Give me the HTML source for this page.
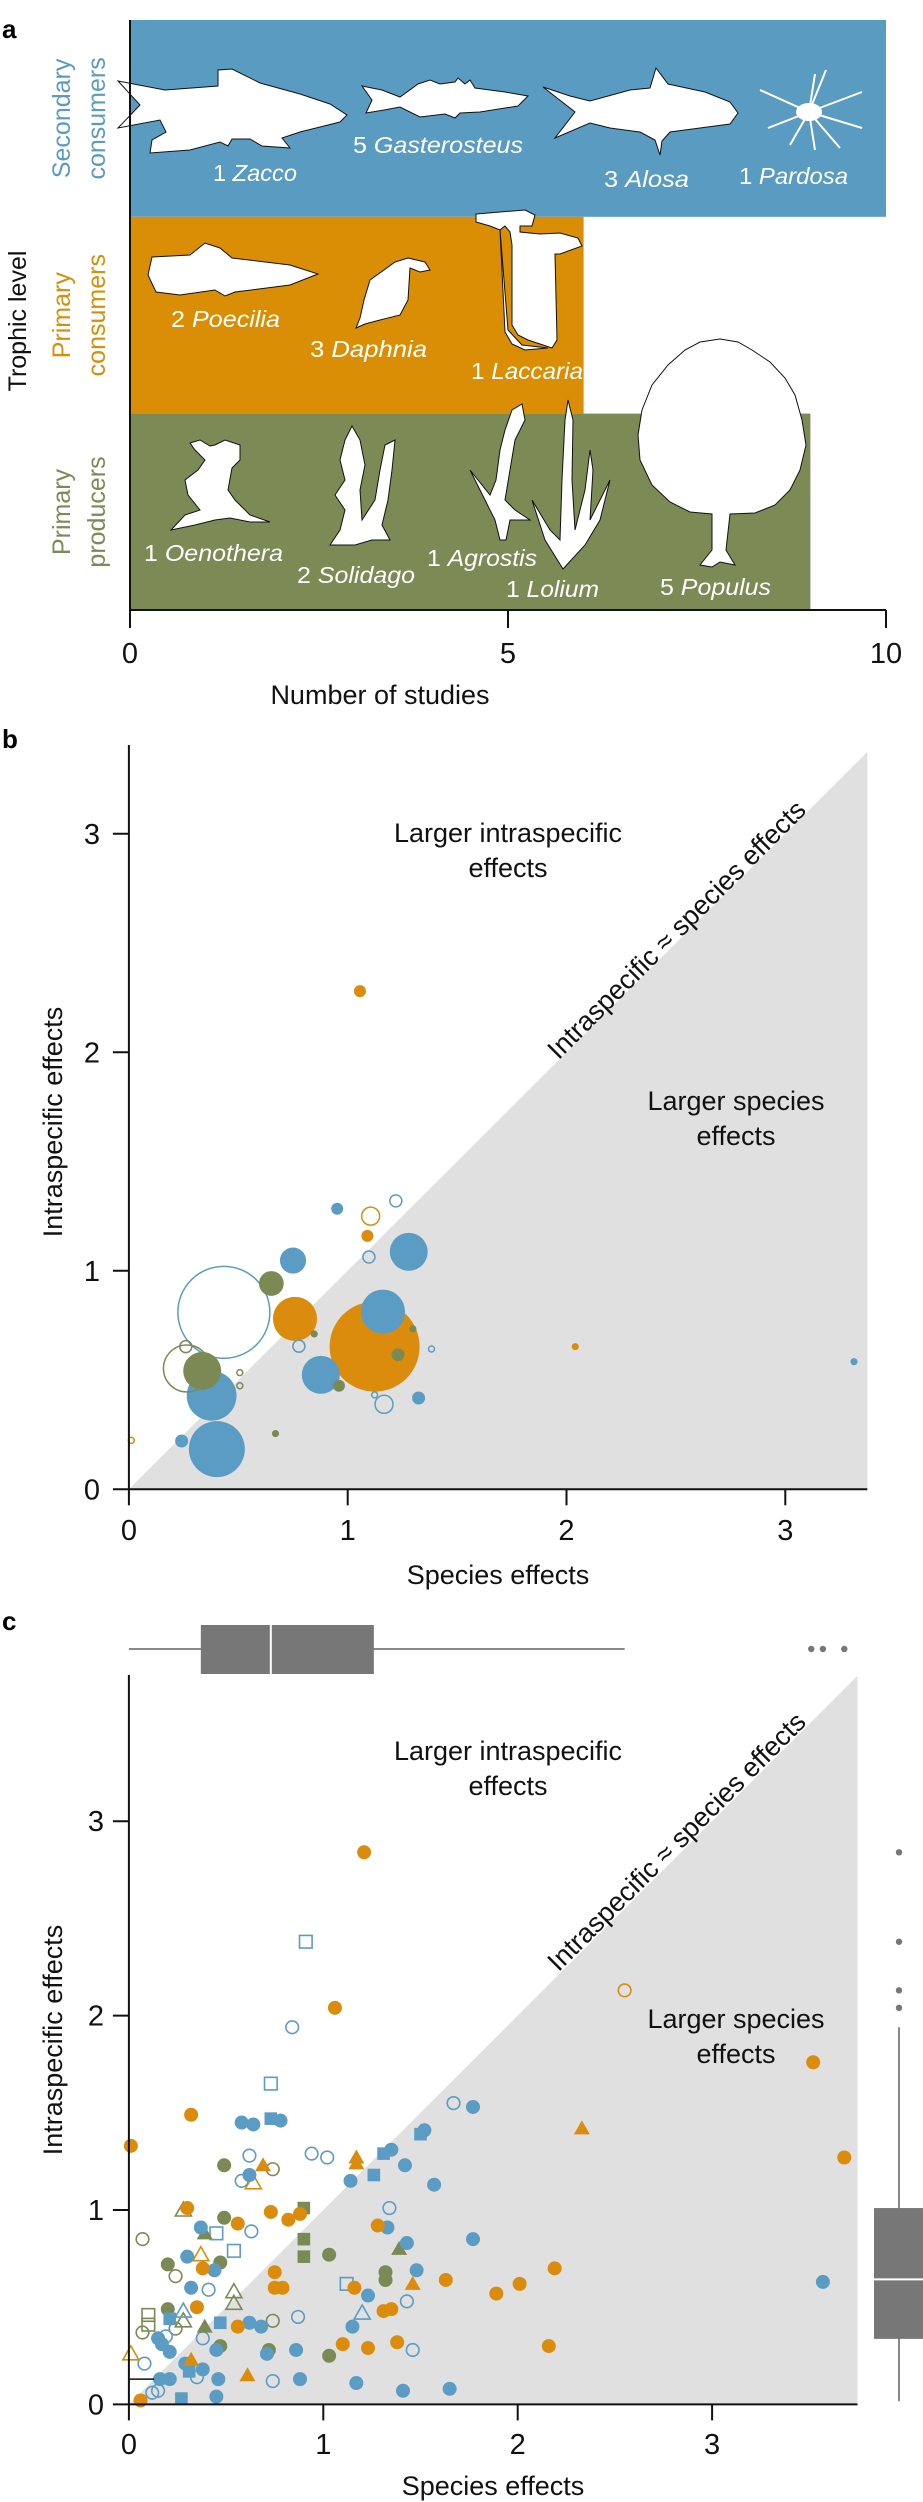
<!DOCTYPE html>
<html><head><meta charset="utf-8">
<style>
html,body{margin:0;padding:0;background:#fff;}
svg{display:block;font-family:"Liberation Sans",sans-serif;}
.lab{font-size:27px;fill:#111;}
.tick{font-size:29px;fill:#111;}
.sp{font-size:23px;fill:#fff;}
</style></head>
<body>
<svg id="fig" width="923" height="2502" viewBox="0 0 923 2502" xmlns="http://www.w3.org/2000/svg">
<!-- Panel a -->
<g id="panelA">
<text x="2" y="38" font-size="26" font-weight="bold">a</text>
<g id="barsA"></g>
<g id="silh" fill="#fff" stroke="#111" stroke-width="1">
<path d="M118,81 L165,90 L218,86 L218,70 L232,69 L260,83 L300,94 L330,104 L347,115 L340,122 L300,132 L282,138 L290,148 L262,146 L250,139 L232,139 L228,146 L220,142 L190,150 L150,153 L152,140 L166,132 L160,120 L118,128 L140,105 Z"/>
<path d="M362,86 L382,90 L400,97 L418,84 L430,80 L440,84 L455,82 L458,78 L465,84 L470,80 L475,88 L505,92 L528,96 L518,106 L480,112 L460,113 L455,118 L445,114 L420,117 L400,107 L384,110 L366,113 L372,100 Z"/>
<path d="M543,87 L570,96 L590,101 L630,90 L650,88 L656,68 L668,84 L705,92 L730,102 L738,113 L730,124 L700,128 L670,132 L662,141 L660,155 L655,140 L640,132 L610,128 L590,123 L555,138 L575,112 Z"/>
<g stroke="#fff" stroke-width="2" fill="none">
<path d="M809,112 L760,90 M809,112 L768,128 M809,112 L790,145 M809,112 L815,150 M809,112 L840,148 M809,112 L862,128 M809,112 L862,92 M809,112 L826,70 M809,112 L815,74"/>
</g>
<ellipse cx="809" cy="112" rx="13" ry="9" stroke="none"/>
<path d="M152,257 L190,255 L205,243 L220,248 L232,258 L290,265 L318,274 L290,285 L235,292 L225,296 L215,290 L180,295 L156,292 L148,275 Z"/>
<path d="M395,262 L408,258 L425,262 L430,270 L420,272 L410,268 L408,300 L400,315 L380,320 L365,324 L356,328 L360,318 L364,300 L370,280 Z"/>
<path d="M476,214 L500,212 L525,210 L535,215 L532,226 L520,226 L520,232 L540,234 L560,233 L578,238 L582,246 L560,254 L555,254 L557,340 L552,348 L540,344 L528,340 L518,335 L512,325 L512,245 L510,232 L505,226 L500,230 L508,330 L522,345 L548,348 L525,350 L512,344 L505,332 L500,230 L490,226 L476,222 Z"/>
<path d="M171,530 L185,515 L200,510 L188,495 L185,480 L198,470 L205,460 L195,450 L190,443 L200,440 L210,446 L215,445 L225,440 L240,445 L240,460 L232,468 L228,490 L235,500 L250,515 L270,522 L250,522 L230,518 L215,520 L195,525 Z"/>
<path d="M330,545 L340,530 L345,510 L335,495 L345,480 L340,460 L345,440 L352,426 L360,440 L365,465 L360,490 L362,520 L375,500 L380,470 L385,445 L395,440 L392,470 L388,500 L382,525 L390,540 L372,540 L355,545 Z"/>
<path d="M500,540 L495,520 L485,500 L470,470 L490,495 L496,480 L500,450 L505,430 L512,410 L522,404 L525,420 L515,440 L510,470 L505,500 L515,510 L530,520 L510,520 L506,540 Z"/>
<path d="M563,569 L545,540 L532,500 L550,530 L560,540 L562,480 L565,420 L568,400 L573,420 L572,480 L575,530 L585,490 L590,450 L593,470 L590,520 L610,480 L600,520 L585,545 Z"/>
<path d="M720,339 L738,342 L752,350 L770,362 L785,378 L795,395 L802,420 L806,445 L800,470 L790,490 L775,505 L755,513 L730,514 L726,550 L735,565 L720,562 L712,567 L700,565 L712,550 L712,514 L690,512 L670,502 L652,485 L640,460 L638,435 L642,410 L652,385 L668,365 L685,350 L700,342 Z"/>
</g>
<g class="sp">
<text x="213" y="181" textLength="84" lengthAdjust="spacingAndGlyphs">1 <tspan font-style="italic">Zacco</tspan></text>
<text x="353" y="153" textLength="170" lengthAdjust="spacingAndGlyphs">5 <tspan font-style="italic">Gasterosteus</tspan></text>
<text x="604" y="187" textLength="85" lengthAdjust="spacingAndGlyphs">3 <tspan font-style="italic">Alosa</tspan></text>
<text x="739" y="184" textLength="109" lengthAdjust="spacingAndGlyphs">1 <tspan font-style="italic">Pardosa</tspan></text>
<text x="171" y="327" textLength="109" lengthAdjust="spacingAndGlyphs">2 <tspan font-style="italic">Poecilia</tspan></text>
<text x="310" y="357" textLength="117" lengthAdjust="spacingAndGlyphs">3 <tspan font-style="italic">Daphnia</tspan></text>
<text x="471" y="379" textLength="112" lengthAdjust="spacingAndGlyphs">1 <tspan font-style="italic">Laccaria</tspan></text>
<text x="144" y="561" textLength="139" lengthAdjust="spacingAndGlyphs">1 <tspan font-style="italic">Oenothera</tspan></text>
<text x="297" y="583" textLength="118" lengthAdjust="spacingAndGlyphs">2 <tspan font-style="italic">Solidago</tspan></text>
<text x="427" y="566" textLength="110" lengthAdjust="spacingAndGlyphs">1 <tspan font-style="italic">Agrostis</tspan></text>
<text x="506" y="597" textLength="93" lengthAdjust="spacingAndGlyphs">1 <tspan font-style="italic">Lolium</tspan></text>
<text x="660" y="595" textLength="111" lengthAdjust="spacingAndGlyphs">5 <tspan font-style="italic">Populus</tspan></text>
</g>
<g id="axisA"></g>
<text x="0" y="0" font-size="25" fill="#111" transform="translate(26,321) rotate(-90)" text-anchor="middle">Trophic level</text>
<text class="lab" x="380" y="704" text-anchor="middle">Number of studies</text>
</g>

<!-- Panel b -->
<g id="panelB">
<text x="2" y="748" font-size="26" font-weight="bold">b</text>
<polygon id="triB" fill="#e0e0e0"/>
<g id="ptsB"></g>
<g id="axesB"></g>
<text class="lab" x="508" y="842" text-anchor="middle">Larger intraspecific</text>
<text class="lab" x="508" y="877" text-anchor="middle">effects</text>
<text class="lab" x="0" y="0" transform="translate(683,936) rotate(-45)" text-anchor="middle">Intraspecific ≈ species effects</text>
<text class="lab" x="736" y="1110" text-anchor="middle">Larger species</text>
<text class="lab" x="736" y="1145" text-anchor="middle">effects</text>
<text class="lab" x="0" y="0" transform="translate(62,1122) rotate(-90)" text-anchor="middle">Intraspecific effects</text>
<text class="lab" x="498" y="1584" text-anchor="middle">Species effects</text>
</g>

<!-- Panel c -->
<g id="panelC">
<text x="2" y="1630" font-size="26" font-weight="bold">c</text>
<polygon id="triC" fill="#e0e0e0"/>
<g id="boxesC"></g>
<g id="ptsC"></g>
<g id="axesC"></g>
<text class="lab" x="508" y="1760" text-anchor="middle">Larger intraspecific</text>
<text class="lab" x="508" y="1795" text-anchor="middle">effects</text>
<text class="lab" x="0" y="0" transform="translate(683,1848) rotate(-45)" text-anchor="middle">Intraspecific ≈ species effects</text>
<text class="lab" x="736" y="2028" text-anchor="middle">Larger species</text>
<text class="lab" x="736" y="2063" text-anchor="middle">effects</text>
<text class="lab" x="0" y="0" transform="translate(62,2040) rotate(-90)" text-anchor="middle">Intraspecific effects</text>
<text class="lab" x="493" y="2495" text-anchor="middle">Species effects</text>
</g>
</svg>
<script>
// ---------- Panel a data ----------
const trophicLevels = ['Secondary consumers', 'Primary consumers', 'Primary producers'];
const levelLines = [['Secondary', 'consumers'], ['Primary', 'consumers'], ['Primary', 'producers']];
const studyCounts = [10, 6, 9];
const ticksA = [0, 5, 10];

// ---------- Panel b data ----------
const bX = [1.056,0.952,1.22,1.105,1.09,1.097,1.279,0.75,0.651,0.434,0.759,1.161,1.123,0.847,1.298,0.777,1.383,1.23,0.265,0.26,0.335,0.378,0.507,0.507,0.877,0.96,1.123,1.166,1.324,0.67,0.241,0.402,0.011,2.04,3.314];
const bY = [2.28,1.284,1.32,1.25,1.16,1.063,1.087,1.047,0.942,0.81,0.78,0.813,0.653,0.711,0.734,0.655,0.642,0.616,0.553,0.653,0.542,0.428,0.534,0.474,0.524,0.474,0.432,0.389,0.418,0.255,0.221,0.184,0.224,0.653,0.584];
const bWeight = [4,4,4,9,4,4,40,19,17,235,54,54,225,1.4,1.4,4,1,4.7,61,4,40,69,1,1,40,4,1,9,4.7,1.4,4.7,87,1,1.4,1.4];
const bGroup = ['o','b','b','o','o','b','b','b','g','b','o','b','o','g','g','b','b','g','g','g','g','b','g','g','b','g','b','b','b','g','b','b','o','o','b'];
const bFilled = [1,1,0,0,1,0,1,1,1,0,1,1,1,1,1,0,0,1,0,0,1,1,0,0,1,1,0,0,1,1,1,1,0,1,1];
const ticksB = [0, 1, 2, 3];

// ---------- Panel c data ----------
const orangeCircleX = [1.21,1.06,0.32,0.01,0.30,0.73,0.82,0.88,0.56,1.28,0.38,0.75,0.75,0.79,0.35,0.56,1.16,1.63,1.89,2.01,2.19,3.52,3.68,1.31,1.35,1.10,1.23,1.38,2.16,0.06];
const orangeCircleY = [2.84,2.04,1.49,1.33,1.01,0.99,0.95,0.98,0.93,0.92,0.70,0.68,0.60,0.60,0.50,0.40,0.60,0.64,0.57,0.62,0.70,1.76,1.27,0.48,0.49,0.31,0.29,0.32,0.30,0.02];
const orangeOpenCircleX = [2.55];
const orangeOpenCircleY = [2.13];
const orangeTriX = [0.69,1.17,1.17,2.33,1.46,0.32,0.61];
const orangeTriY = [1.23,1.27,1.24,1.42,0.62,0.23,0.15];
const orangeOpenTriX = [0.64,0.37,0.01];
const orangeOpenTriY = [1.14,0.77,0.26];
const blueCircleX = [0.58,0.64,0.78,0.37,0.30,0.44,0.32,0.62,0.68,0.15,0.17,0.21,0.45,0.71,0.86,1.15,1.23,1.48,1.33,1.43,1.77,1.14,1.42,1.57,1.52,1.35,1.77,3.57,0.29,0.38,0.21,0.16,0.46,0.45,0.88,1.17,1.41,1.65,0.62];
const blueCircleY = [1.45,1.44,1.46,0.91,0.76,0.69,0.60,0.42,0.40,0.34,0.31,0.27,0.28,0.26,0.28,0.40,0.56,0.69,0.91,0.83,0.85,1.15,1.23,1.13,1.41,1.31,1.53,0.63,0.21,0.18,0.13,0.13,0.13,0.04,0.13,0.11,0.07,0.08,1.18];
const blueOpenCircleX = [0.84,0.62,0.58,0.94,1.02,1.67,1.34,0.63,0.41,0.38,0.87,1.43,1.46,0.74,0.08,0.12,0.15,0.35,0.19];
const blueOpenCircleY = [1.94,1.28,1.15,1.29,1.27,1.55,1.01,0.89,0.59,0.34,0.45,0.53,0.28,0.12,0.21,0.06,0.07,0.14,0.35];
const blueSquareX = [0.73,1.31,1.50,1.26,0.21,0.47,0.27,0.31];
const blueSquareY = [1.47,1.29,1.39,1.18,0.44,0.42,0.03,0.17];
const blueOpenSquareX = [0.91,0.73,0.45,0.54,1.12];
const blueOpenSquareY = [2.38,1.65,0.88,0.79,0.62];
const blueOpenTriX = [1.20,0.28];
const blueOpenTriY = [0.47,0.48];
const greenCircleX = [0.49,0.49,0.20,0.47,1.03,1.32,1.32,0.20,0.47,0.72,1.03];
const greenCircleY = [1.23,0.96,0.72,0.73,0.77,0.68,0.64,0.49,0.30,0.28,0.25];
const greenOpenCircleX = [0.07,0.24,0.74,0.07,0.24,0.74];
const greenOpenCircleY = [0.85,0.66,1.21,0.37,0.39,0.43];
const greenSquareX = [0.90,0.90,0.90];
const greenSquareY = [1.01,0.85,0.76];
const greenOpenSquareX = [0.10,0.10];
const greenOpenSquareY = [0.46,0.41];
const greenTriX = [0.39,1.39,0.39];
const greenTriY = [0.88,0.80,0.40];
const greenOpenTriX = [0.28,0.54,0.54,0.28];
const greenOpenTriY = [1.00,0.58,0.52,0.43];
const ticksC = [0, 1, 2, 3];
const topBox = [0, 0.37, 0.73, 1.26, 2.55];
const topOutliers = [3.51, 3.57, 3.68];
const sideBox = [0.017, 0.337, 0.643, 1.01, 1.94];
const sideOutliers = [2.84, 2.38, 2.13, 2.04];

// ---------- helpers ----------
const NS = 'http://www.w3.org/2000/svg';
const COL = {b: '#5a9cc4', o: '#db8c0c', g: '#7b8a54'};
const BAR = ['#5a9bc1', '#d98e05', '#7c8a56'];
function mk(tag, attrs, parent) {
  const e = document.createElementNS(NS, tag);
  for (const k in attrs) e.setAttribute(k, attrs[k]);
  parent.appendChild(e);
  return e;
}

// ---------- Panel a ----------
const xA = v => 130 + v * 75.6;
const bandTop = 20, bandH = 196.8;
const barsA = document.getElementById('barsA');
trophicLevels.forEach((lv, i) => {
  const r = mk('rect', {x: xA(0), y: bandTop + i * bandH, width: xA(studyCounts[i]) - xA(0), height: bandH, fill: BAR[i]}, barsA);
  
  
  const cyy = bandTop + i * bandH + bandH / 2;
  levelLines[i].forEach((ln, j) => {
    const t = mk('text', {x: 0, y: 0, transform: 'translate(' + (70 + j * 35) + ',' + cyy + ') rotate(-90)', 'text-anchor': 'middle', 'font-size': 25, fill: BAR[i]}, barsA);
    t.textContent = ln;
    
    
  });
});
const axisA = document.getElementById('axisA');
const yAxisA = mk('line', {x1: xA(0), y1: 20, x2: xA(0), y2: 628, stroke: '#111', 'stroke-width': 2}, axisA);


const xLineA = mk('line', {x1: xA(0), y1: 610, x2: xA(10), y2: 610, stroke: '#111', 'stroke-width': 2}, axisA);


ticksA.forEach(v => {
  const l = mk('line', {x1: xA(v), y1: 610, x2: xA(v), y2: 628, stroke: '#111', 'stroke-width': 2}, axisA);
  
  
  const t = mk('text', {x: xA(v), y: 663, 'text-anchor': 'middle', class: 'tick'}, axisA);
  t.textContent = v;
  
  
});

// ---------- Panel b ----------
const bx = v => 128.9 + v * 218.8;
const by = v => 1489.3 - v * 218.5;
const bMax = 3.375;
document.getElementById('triB').setAttribute('points', bx(0) + ',' + by(0) + ' ' + bx(bMax) + ',' + by(bMax) + ' ' + bx(bMax) + ',' + by(0));
const ptsB = document.getElementById('ptsB');
const orderB = bX.map((_, i) => i).sort((a, b) => bWeight[b] - bWeight[a]);
orderB.forEach(i => {
  const r = 3 * Math.sqrt(bWeight[i]);
  const c = COL[bGroup[i]];
  const e = mk('circle', {cx: bx(bX[i]), cy: by(bY[i]), r: r, fill: bFilled[i] ? c : 'none', stroke: c, 'stroke-width': bFilled[i] ? 0 : 1.5}, ptsB);
  
  
});
const axesB = document.getElementById('axesB');
const yLB = mk('line', {x1: bx(0), y1: 745, x2: bx(0), y2: by(0), stroke: '#111', 'stroke-width': 2}, axesB);


const xLB = mk('line', {x1: bx(0), y1: by(0), x2: bx(bMax), y2: by(0), stroke: '#111', 'stroke-width': 2}, axesB);


ticksB.forEach(v => {
  const l1 = mk('line', {x1: bx(v), y1: by(0), x2: bx(v), y2: by(0) + 16, stroke: '#111', 'stroke-width': 2}, axesB);
  
  
  const t1 = mk('text', {x: bx(v), y: 1540, 'text-anchor': 'middle', class: 'tick'}, axesB);
  t1.textContent = v;
  
  
  const l2 = mk('line', {x1: bx(0) - 16, y1: by(v), x2: bx(0), y2: by(v), stroke: '#111', 'stroke-width': 2}, axesB);
  
  
  const t2 = mk('text', {x: 100, y: by(v) + 10, 'text-anchor': 'end', class: 'tick'}, axesB);
  t2.textContent = v;
  
  
});

// ---------- Panel c ----------
const cx = v => 128.9 + v * 194.4;
const cy = v => 2404.4 - v * 194.4;
const cMax = 3.748;
document.getElementById('triC').setAttribute('points', cx(0) + ',' + cy(0) + ' ' + cx(cMax) + ',' + cy(cMax) + ' ' + cx(cMax) + ',' + cy(0));
const ptsC = document.getElementById('ptsC');
function marker(x, y, shape, col, filled) {
  let e;
  const fill = filled ? col : 'none';
  const sw = filled ? 0 : 1.6;
  if (shape === 'c') e = mk('circle', {cx: x, cy: y, r: filled ? 7 : 6.3, fill: fill, stroke: col, 'stroke-width': sw}, ptsC);
  else if (shape === 's') e = mk('rect', {x: x - 6.3, y: y - 6.3, width: 12.6, height: 12.6, fill: fill, stroke: col, 'stroke-width': sw}, ptsC);
  else e = mk('polygon', {points: x + ',' + (y - 8) + ' ' + (x + 8) + ',' + (y + 6) + ' ' + (x - 8) + ',' + (y + 6), fill: fill, stroke: col, 'stroke-width': sw}, ptsC);
  
  
}
const seriesC = [
  [greenOpenCircleX, greenOpenCircleY, 'c', 'g', 0], [greenOpenSquareX, greenOpenSquareY, 's', 'g', 0], [greenOpenTriX, greenOpenTriY, 't', 'g', 0],
  [blueOpenCircleX, blueOpenCircleY, 'c', 'b', 0], [blueOpenSquareX, blueOpenSquareY, 's', 'b', 0], [blueOpenTriX, blueOpenTriY, 't', 'b', 0],
  [orangeOpenCircleX, orangeOpenCircleY, 'c', 'o', 0], [orangeOpenTriX, orangeOpenTriY, 't', 'o', 0],
  [greenCircleX, greenCircleY, 'c', 'g', 1], [greenSquareX, greenSquareY, 's', 'g', 1], [greenTriX, greenTriY, 't', 'g', 1],
  [blueCircleX, blueCircleY, 'c', 'b', 1], [blueSquareX, blueSquareY, 's', 'b', 1],
  [orangeCircleX, orangeCircleY, 'c', 'o', 1], [orangeTriX, orangeTriY, 't', 'o', 1]
];
seriesC.forEach(s => s[0].forEach((xv, i) => marker(cx(xv), cy(s[1][i]), s[2], COL[s[3]], s[4])));

const axesC = document.getElementById('axesC');
const yLC = mk('line', {x1: cx(0), y1: 1675, x2: cx(0), y2: cy(0), stroke: '#111', 'stroke-width': 2}, axesC);


const xLC = mk('line', {x1: cx(0), y1: cy(0), x2: cx(cMax), y2: cy(0), stroke: '#111', 'stroke-width': 2}, axesC);


const refC = mk('line', {x1: cx(0), y1: cy(0.13), x2: cx(0.13), y2: cy(0.13), stroke: '#111', 'stroke-width': 1.5}, axesC);


ticksC.forEach(v => {
  const l1 = mk('line', {x1: cx(v), y1: cy(0), x2: cx(v), y2: cy(0) + 16, stroke: '#111', 'stroke-width': 2}, axesC);
  
  
  const t1 = mk('text', {x: cx(v), y: 2454, 'text-anchor': 'middle', class: 'tick'}, axesC);
  t1.textContent = v;
  
  
  const l2 = mk('line', {x1: cx(0) - 16, y1: cy(v), x2: cx(0), y2: cy(v), stroke: '#111', 'stroke-width': 2}, axesC);
  
  
  const t2 = mk('text', {x: 104, y: cy(v) + 10, 'text-anchor': 'end', class: 'tick'}, axesC);
  t2.textContent = v;
  
  
});

// marginal boxplots
const boxesC = document.getElementById('boxesC');
const GREY = '#777';
const tw = mk('line', {x1: cx(topBox[0]), y1: 1649, x2: cx(topBox[4]), y2: 1649, stroke: '#888', 'stroke-width': 2}, boxesC);


const tb = mk('rect', {x: cx(topBox[1]), y: 1625, width: cx(topBox[3]) - cx(topBox[1]), height: 49, fill: GREY}, boxesC);


const tm = mk('line', {x1: cx(topBox[2]), y1: 1625, x2: cx(topBox[2]), y2: 1674, stroke: '#fff', 'stroke-width': 2}, boxesC);


topOutliers.forEach(v => {
  const d = mk('circle', {cx: cx(v), cy: 1649, r: 3.2, fill: GREY}, boxesC);
  
  
});
const sx = 899;
const sw = mk('line', {x1: sx, y1: cy(sideBox[0]), x2: sx, y2: cy(sideBox[4]), stroke: '#888', 'stroke-width': 2}, boxesC);


const sb = mk('rect', {x: 874, y: cy(sideBox[3]), width: 60, height: cy(sideBox[1]) - cy(sideBox[3]), fill: GREY}, boxesC);


const sm = mk('line', {x1: 874, y1: cy(sideBox[2]), x2: 923, y2: cy(sideBox[2]), stroke: '#fff', 'stroke-width': 2}, boxesC);


sideOutliers.forEach(v => {
  const d = mk('circle', {cx: sx, cy: cy(v), r: 3.2, fill: GREY}, boxesC);
  
  
});
</script>
</body></html>
